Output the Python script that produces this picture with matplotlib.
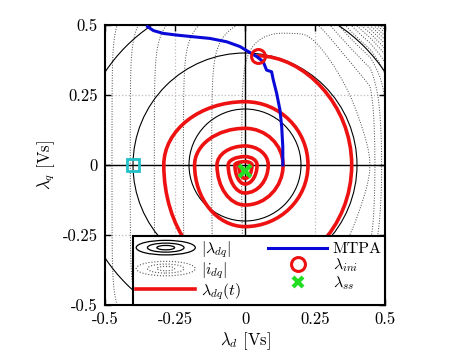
import numpy as np
import matplotlib
matplotlib.use('Agg')
import matplotlib.pyplot as plt
from matplotlib.path import Path
from matplotlib.patches import PathPatch, Circle, Ellipse
from matplotlib.lines import Line2D
from matplotlib.legend_handler import HandlerBase

plt.rcParams['font.family'] = 'serif'
plt.rcParams['font.serif'] = ['cmr10']
plt.rcParams['mathtext.fontset'] = 'cm'
plt.rcParams['axes.unicode_minus'] = False
plt.rcParams['axes.formatter.use_mathtext'] = True

# |lambda_dq| circles [Vs]
flux_radii = [0.2, 0.4, 0.6, 0.8]

# MTPA curve in the flux plane
mtpa_d = [-0.348, -0.327, -0.292, -0.244, -0.185, -0.125, -0.065, -0.018, 0.012,
          0.042, 0.065, 0.077, 0.095, 0.101, 0.113, 0.125, 0.131, 0.135, 0.135]
mtpa_q = [0.494, 0.480, 0.470, 0.464, 0.458, 0.452, 0.440, 0.423, 0.405,
          0.387, 0.369, 0.339, 0.333, 0.304, 0.256, 0.196, 0.137, 0.065, 0.0]

lam_ini = (0.045, 0.39)
lam_ss = (0.0, -0.02)
lam_square = (-0.4, 0.0)

# where the flux trajectory crosses the axes, turning clockwise from lam_ini
spiral_right = [0.381, 0.225, 0.136, 0.083, 0.043, 0.025]
spiral_bottom = [-0.40, -0.22, -0.143, -0.10, -0.068, -0.048]
spiral_left = [-0.29, -0.18, -0.10, -0.06, -0.036, -0.022]
spiral_top = [0.226, 0.131, 0.068, 0.03, 0.012]

# current map: lambda_d where each |i_dq| contour crosses lambda_q = 0
lamd_pts = [-0.70, -0.475, -0.41, -0.324, -0.22, -0.119, -0.012, 0.135,
            0.446, 0.464, 0.488, 0.51, 0.60]
id_pts = [-9.5, -6.5, -5.5, -4.5, -3.5, -2.5, -1.5, 0.0,
          1.5, 2.5, 3.5, 4.5, 9.0]
i_levels = [1.5, 2.5, 3.5, 4.5, 5.5, 6.5, 7.5, 8.5, 9.5, 10.5, 11.5, 12.5,
            13.5, 14.5, 15.5, 16.5]
# q-axis saturation and cross saturation of the map
q_sat = 44.5
cross_sat = 75.0

ticks = [-0.5, -0.25, 0, 0.25, 0.5]
tick_labels = ['-0.5', '-0.25', '0', '0.25', '0.5']


class HandlerRings(HandlerBase):
    def __init__(self, color, ls, lw):
        super().__init__()
        self.color, self.ls, self.lw = color, ls, lw

    def create_artists(self, legend, orig_handle, xdescent, ydescent,
                       width, height, fontsize, trans):
        cx = -xdescent + width / 2
        cy = -ydescent + height / 2
        arts = []
        for s in (1.0, 0.62, 0.3):
            arts.append(Ellipse((cx, cy), width * s, height * 1.3 * s, fill=False,
                                ec=self.color, ls=self.ls, lw=self.lw,
                                transform=trans))
        return arts


def spiral_path():
    pts = [lam_ini]
    for i in range(len(spiral_right)):
        pts += [(spiral_right[i], 0.0), (0.0, spiral_bottom[i]), (spiral_left[i], 0.0)]
        if i < len(spiral_top):
            pts.append((0.0, spiral_top[i]))
    k = 0.5523
    verts = [pts[0]]
    codes = [Path.MOVETO]
    for p, q in zip(pts[:-1], pts[1:]):
        if p[1] == 0.0:
            c1, c2 = (p[0], k * q[1]), (k * p[0], q[1])
        else:
            c1, c2 = (k * q[0], p[1]), (q[0], k * p[1])
        verts += [c1, c2, q]
        codes += [Path.CURVE4] * 3
    return Path(verts, codes)


fig = plt.figure(figsize=(4.74, 3.55), dpi=100)
ax = fig.add_axes([105 / 474, 50 / 355, 280 / 474, 280 / 355])

# dotted |i_dq| contours
g = np.linspace(-0.55, 0.55, 601)
D, Q = np.meshgrid(g, g)
i_d = np.interp(D, lamd_pts, id_pts)
i_q = (Q + q_sat * Q ** 5) * (1 + cross_sat * np.clip(D - 0.2, 0, None) ** 2)
ax.contour(D, Q, np.hypot(i_d, i_q), levels=i_levels, colors='#444444',
           linewidths=0.7, linestyles=':', zorder=1)

for r in flux_radii:
    ax.add_patch(Circle((0, 0), r, fill=False, ec='k', lw=0.8, zorder=2))

ax.axhline(0, color='k', lw=1.0, zorder=2)
ax.axvline(0, color='k', lw=1.0, zorder=2)

ax.add_patch(PathPatch(spiral_path(), fill=False, ec='#ee1111', lw=2.6,
                       capstyle='round', zorder=3))
ax.plot(mtpa_d, mtpa_q, color='#0a0ad8', lw=2.2, zorder=4)
ax.plot(*lam_ini, 'o', ms=10, mfc='none', mec='#ee1111', mew=2.2, zorder=5)
ax.plot(*lam_ss, 'x', ms=8, mec='#22dd22', mew=3, zorder=5)
ax.plot(*lam_square, 's', ms=8, mfc='none', mec='#22c0c8', mew=2, zorder=5)

ax.set_xlim(-0.5, 0.5)
ax.set_ylim(-0.5, 0.5)
ax.set_xticks(ticks, tick_labels)
ax.set_yticks(ticks, tick_labels)
ax.tick_params(direction='in', top=True, right=True, length=4, width=1,
               labelsize=12, pad=5)
ax.grid(True, ls=':', color='#c4b8bc', lw=0.9)
ax.set_axisbelow(True)
for s in ax.spines.values():
    s.set_linewidth(1.5)
ax.set_xlabel(r'$\lambda_d$ [Vs]', fontsize=12, labelpad=2)
ax.set_ylabel(r'$\lambda_q$ [Vs]', fontsize=12, labelpad=4)

h_flux = Line2D([], [])
h_cur = Line2D([], [])
handles = [h_flux, h_cur,
           Line2D([], [], color='#ee1111', lw=2.6),
           Line2D([], [], color='#0a0ad8', lw=2.2),
           Line2D([], [], ls='none', marker='o', ms=10, mfc='none', mec='#ee1111', mew=2.2),
           Line2D([], [], ls='none', marker='x', ms=7, mec='#22dd22', mew=3)]
labels = [r'$|\lambda_{dq}|$', r'$|i_{dq}|$', r'$\lambda_{dq}(t)$', 'MTPA',
          r'$\lambda_{ini}$', r'$\lambda_{ss}$']
leg = ax.legend(handles, labels, ncol=2, loc='lower left',
                bbox_to_anchor=(0.1, 0.0, 0.9, 0.243), mode='expand',
                borderaxespad=0, borderpad=0.2, handlelength=3.7, handletextpad=0.35,
                labelspacing=0.02, fontsize=11.5, fancybox=False,
                edgecolor='k', framealpha=1,
                handler_map={h_flux: HandlerRings('k', '-', 0.9),
                             h_cur: HandlerRings('#555555', ':', 0.8)})
leg.get_frame().set_linewidth(1.5)

fig.savefig('out.png', dpi=100)
